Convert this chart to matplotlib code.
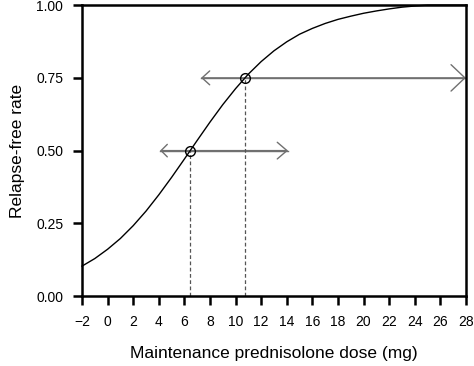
import matplotlib
matplotlib.use("Agg")
from matplotlib import pyplot as plt

# data
dose = [-2, -1, 0, 1, 2, 3, 4, 5, 6, 7, 8, 9, 10, 11, 12, 13, 14, 15, 16, 17, 18, 19, 20, 21, 22, 23, 24, 25, 26, 27, 28]
rate = [0.103, 0.129, 0.161, 0.198, 0.242, 0.292, 0.348, 0.408, 0.471, 0.535, 0.598, 0.658, 0.713, 0.763, 0.806, 0.843,
        0.874, 0.900, 0.920, 0.937, 0.951, 0.962, 0.972, 0.980, 0.987, 0.993, 0.997, 1.0, 1.0, 1.0, 1.0]

point_dose = [6.45, 10.75]
point_rate = [0.50, 0.75]
arrow_left = [4.1, 7.3]
arrow_right = [14.1, 28.0]

xticks = list(range(-2, 29, 2))
yticks = [0.0, 0.25, 0.5, 0.75, 1.0]

plt.rcParams["font.family"] = ["Liberation Sans", "DejaVu Sans"]

fig = plt.figure(figsize=(4.74, 3.66), dpi=100)
ax = fig.add_axes([0.173, 0.191, 0.810, 0.795])

ax.plot(dose, rate, color="black", linewidth=1.0, clip_on=False, zorder=3)

# open arrowheads, left ones small, right ones bigger
left_heads = [(0.45, 0.45), (0.55, 0.5)]
right_heads = [(0.7, 0.6), (1.0, 0.95)]
for i in range(len(point_dose)):
  xd = point_dose[i]
  yr = point_rate[i]
  ax.plot([arrow_left[i], arrow_right[i]], [yr, yr], color="#707070", linewidth=1.0, zorder=2)
  hl, hw = left_heads[i]
  ax.annotate("", xy=(arrow_left[i], yr), xytext=(xd, yr),
              arrowprops=dict(arrowstyle="->,head_length=%g,head_width=%g" % (hl, hw),
                              color="#707070", lw=1.0, shrinkA=0, shrinkB=0),
              annotation_clip=False, zorder=2)
  hl, hw = right_heads[i]
  ax.annotate("", xy=(arrow_right[i], yr), xytext=(xd, yr),
              arrowprops=dict(arrowstyle="->,head_length=%g,head_width=%g" % (hl, hw),
                              color="#707070", lw=1.0, shrinkA=0, shrinkB=0),
              annotation_clip=False, zorder=2)
  ax.plot([xd, xd], [0, yr], color="#555555", linestyle=(0, (3, 2)), linewidth=0.9, zorder=2)

ax.plot(point_dose, point_rate, linestyle="none", marker="o", markersize=7,
        markerfacecolor="none", markeredgecolor="black", markeredgewidth=1.0, zorder=4)

ax.set_xlim(-2, 28)
ax.set_ylim(0, 1)
ax.set_xticks(xticks)
ax.set_xticklabels([str(t).replace("-", "\u2212") for t in xticks])
ax.set_yticks(yticks)
ax.set_yticklabels(["%.2f" % t for t in yticks])

for s in ax.spines.values():
  s.set_linewidth(1.8)
ax.tick_params(direction="out", length=6.5, width=1.8, labelsize=10, pad=7)

ax.set_xlabel("Maintenance prednisolone dose (mg)", fontsize=12.5, labelpad=12)
ax.set_ylabel("Relapse-free rate", fontsize=12.5, labelpad=8)

fig.savefig("out.png", dpi=100)
